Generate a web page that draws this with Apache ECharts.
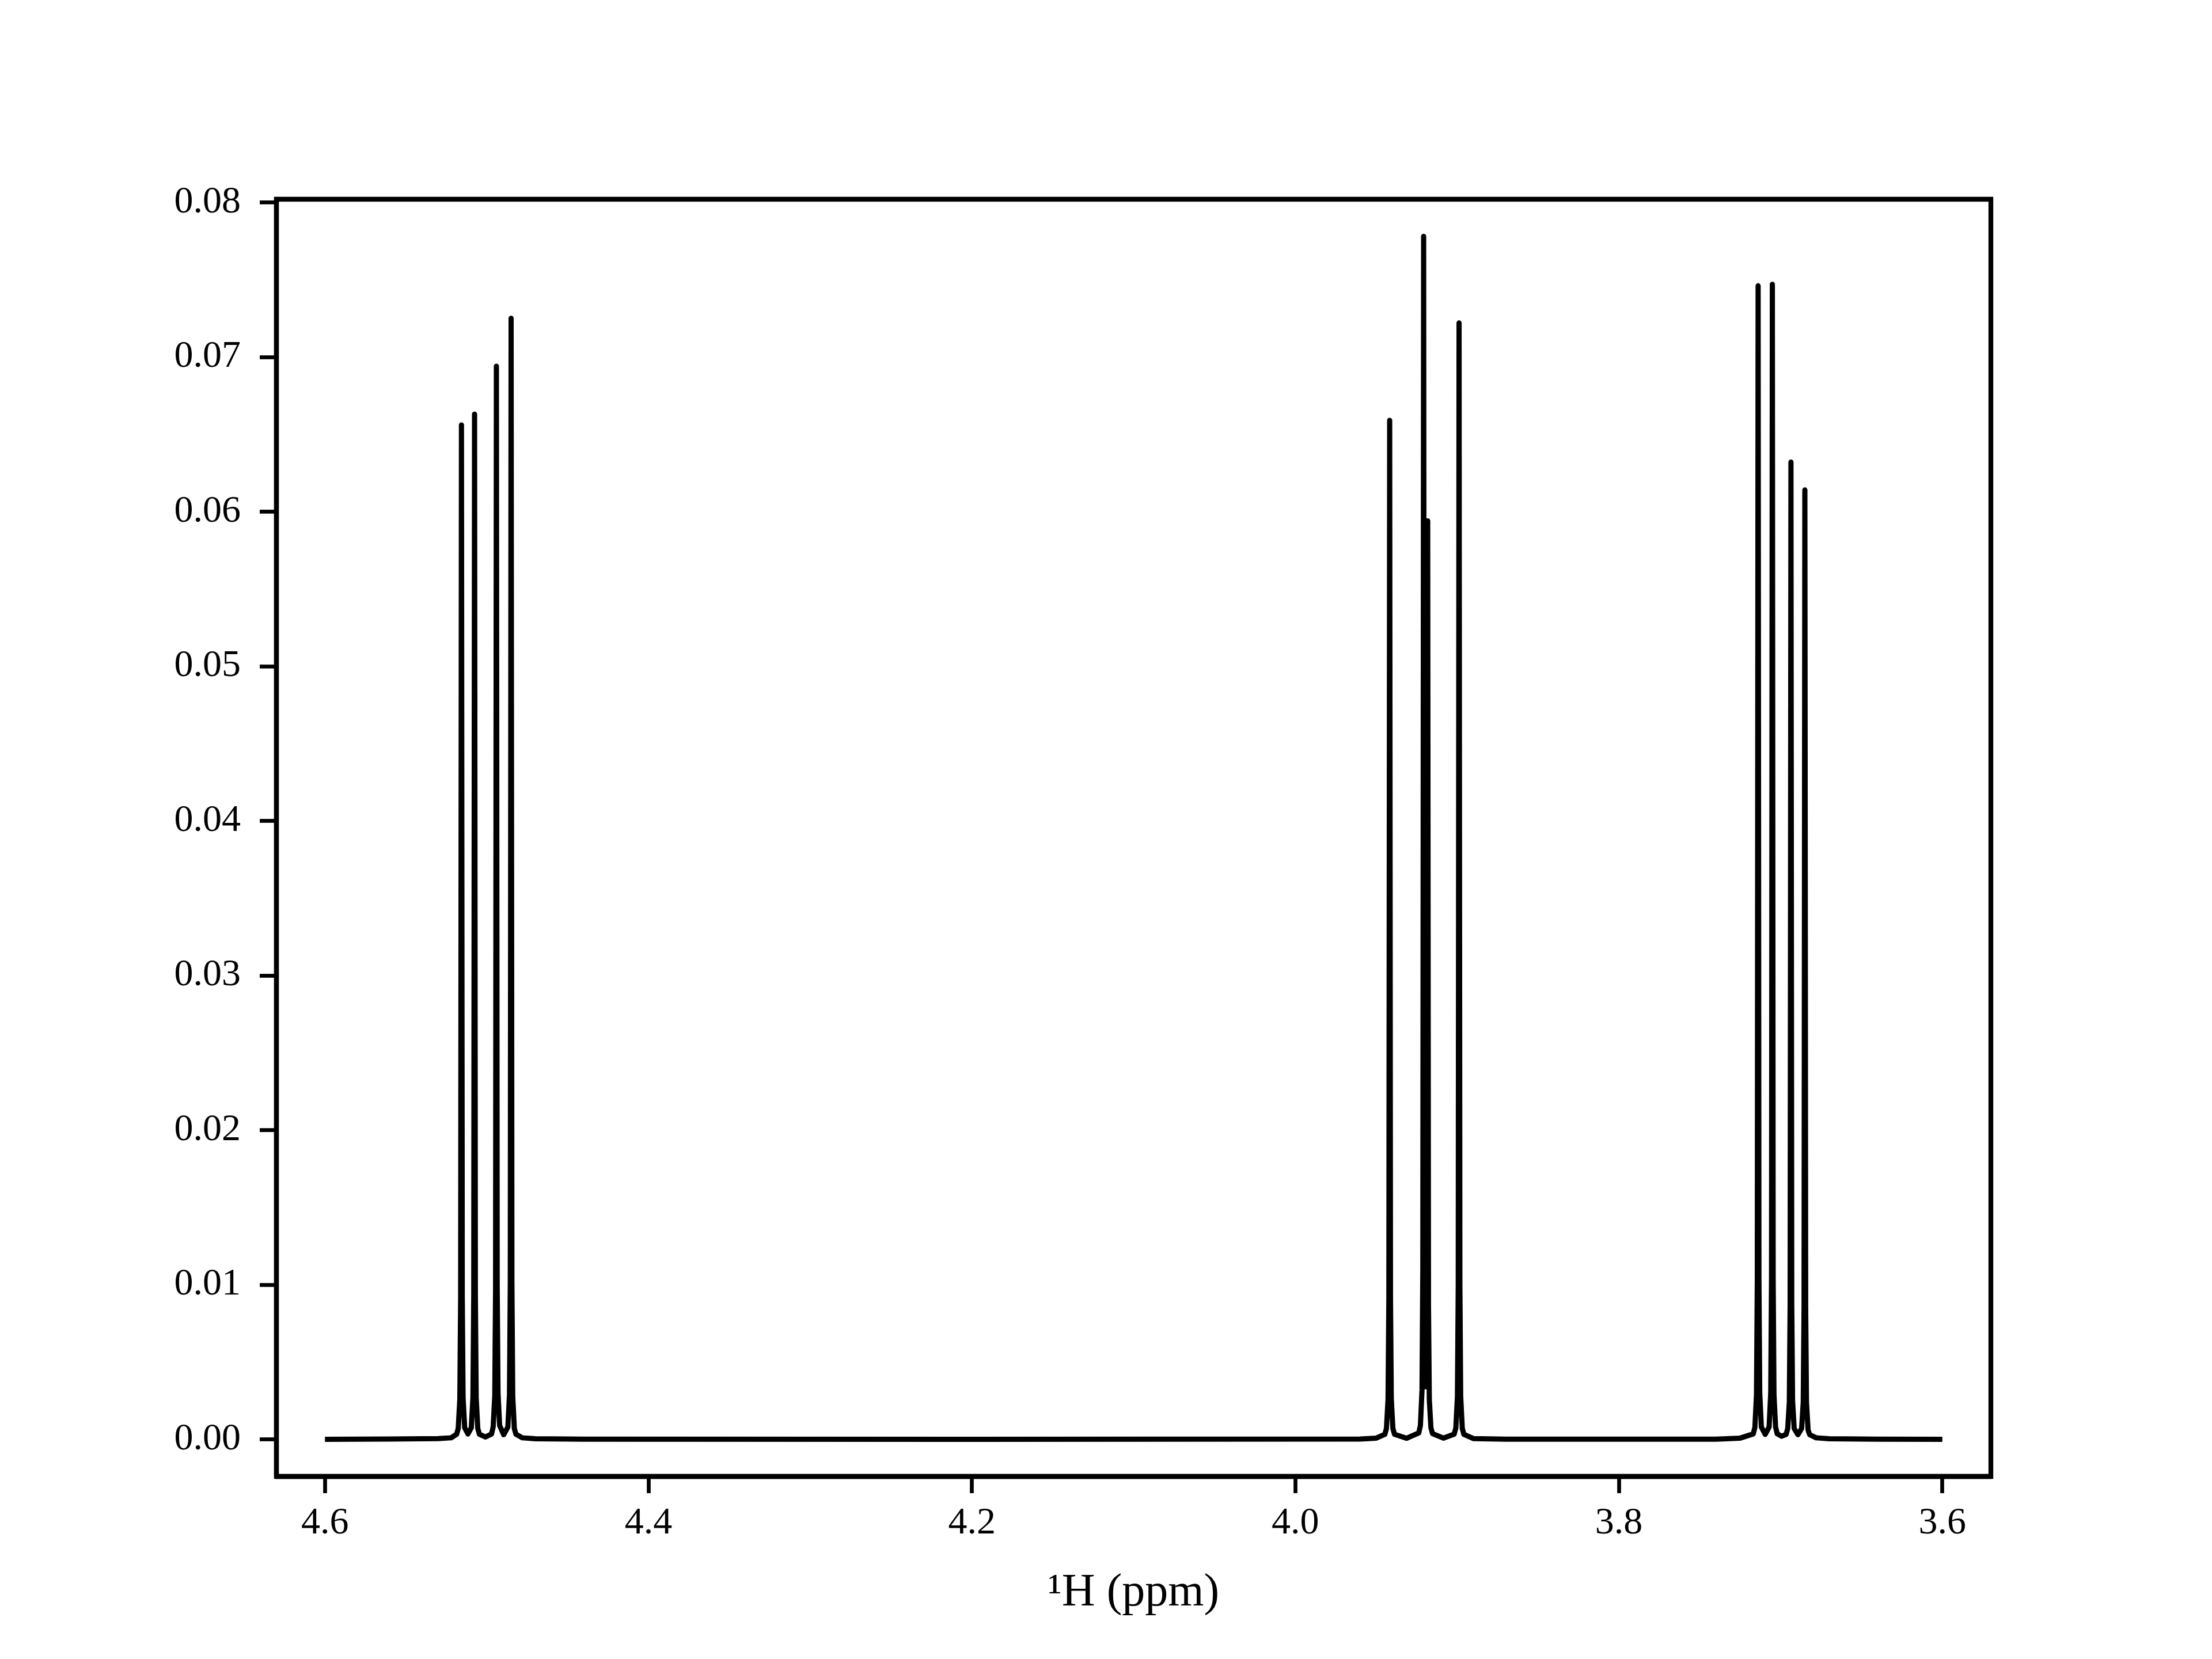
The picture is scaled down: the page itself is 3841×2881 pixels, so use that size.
<!DOCTYPE html>
<html>
<head>
<meta charset="utf-8">
<script src="https://cdn.jsdelivr.net/npm/echarts@6.0.0/dist/echarts.min.js"></script>
<style>
html,body{margin:0;padding:0;background:#fff;}
#chart{width:3841px;height:2881px;}
</style>
</head>
<body>
<div id="chart"></div>
<script>
// Chemical shift (ppm)
const ppm = [
  4.6000, 4.5600, 4.5300, 4.5220,
  4.5186, 4.5176, 4.5166, 4.5161, 4.5156, 4.5151, 4.5146, 4.5136,
  4.5116,
  4.5095, 4.5085, 4.5080, 4.5075, 4.5070, 4.5065, 4.5055, 4.5045,
  4.5008,
  4.4970, 4.4960, 4.4950, 4.4945, 4.4940, 4.4935, 4.4930, 4.4920,
  4.4895,
  4.4869, 4.4859, 4.4854, 4.4849, 4.4844, 4.4839, 4.4829, 4.4819,
  4.4780, 4.4700, 4.4400, 4.2000, 3.9600, 3.9500,
  3.9447, 3.9437, 3.9427, 3.9422, 3.9417, 3.9412, 3.9407, 3.9397, 3.9387,
  3.9312,
  3.9237, 3.9227, 3.9217, 3.9212, 3.9207, 3.9202,
  3.91945,
  3.9187, 3.9182, 3.9177, 3.9172, 3.9162, 3.9152,
  3.9085,
  3.9018, 3.9008, 3.8998, 3.8993, 3.8988, 3.8983, 3.8978, 3.8968, 3.8958,
  3.8900, 3.8700, 3.7400, 3.7250,
  3.7169, 3.7159, 3.7149, 3.7144, 3.7139, 3.7134, 3.7129, 3.7119,
  3.7095,
  3.7071, 3.7061, 3.7056, 3.7051, 3.7046, 3.7041, 3.7031, 3.7021,
  3.6994,
  3.6966, 3.6956, 3.6946, 3.6941, 3.6936, 3.6931, 3.6926, 3.6916,
  3.6893,
  3.6870, 3.6860, 3.6855, 3.6850, 3.6845, 3.6840, 3.6830, 3.6820,
  3.6780, 3.6700, 3.6400, 3.6000
];
// Intensity
const intensity = [
  0, 0.00002, 0.00005, 0.0001,
  0.00033, 0.0007, 0.0026, 0.0091, 0.0656, 0.0092, 0.0027, 0.00075,
  0.00035,
  0.00075, 0.0027, 0.0093, 0.0663, 0.0093, 0.0027, 0.0007, 0.00033,
  0.00015,
  0.00035, 0.0008, 0.0028, 0.0097, 0.0694, 0.0098, 0.0030, 0.0009,
  0.0003,
  0.0008, 0.0029, 0.0101, 0.0725, 0.0100, 0.0028, 0.0007, 0.00033,
  0.0001, 0.00004, 0.00001, 0, 0.00002, 0.00008,
  0.00032, 0.0007, 0.0026, 0.0091, 0.0659, 0.0091, 0.0026, 0.0007, 0.00033,
  0.00007,
  0.00042, 0.0009, 0.0032, 0.0110, 0.0778, 0.0113,
  0.0034,
  0.0090, 0.0594, 0.0085, 0.0026, 0.00075, 0.00037,
  0.00008,
  0.00034, 0.00073, 0.0028, 0.0100, 0.0722, 0.0100, 0.0028, 0.0007, 0.00032,
  0.00005, 0.00001, 0.00001, 0.00008,
  0.00035, 0.00077, 0.0029, 0.0103, 0.0746, 0.0104, 0.0030, 0.0008,
  0.00032,
  0.0008, 0.0030, 0.0104, 0.0747, 0.0104, 0.0029, 0.0008, 0.00036,
  0.0002,
  0.00032, 0.0007, 0.0024, 0.0087, 0.0632, 0.0087, 0.0025, 0.0007,
  0.0003,
  0.0007, 0.0024, 0.0085, 0.0614, 0.0085, 0.0024, 0.0006, 0.0003,
  0.0001, 0.00004, 0.00001, 0
];
const xTicks = [4.6, 4.4, 4.2, 4.0, 3.8, 3.6];
const yTicks = [0, 0.01, 0.02, 0.03, 0.04, 0.05, 0.06, 0.07, 0.08];

const data = ppm.map((x, i) => [x, intensity[i]]);
const FONT = 'Liberation Serif';

const chart = echarts.init(document.getElementById('chart'), null, {renderer: 'canvas'});
chart.setOption({
  animation: false,
  backgroundColor: '#ffffff',
  grid: {
    left: 480, top: 346, width: 2977, height: 2218,
    show: true, borderColor: '#000', borderWidth: 8.3, backgroundColor: 'transparent'
  },
  xAxis: {
    type: 'value', inverse: true, min: 3.57, max: 4.63,
    axisLine: {show: true, onZero: false, lineStyle: {color: '#000', width: 8.3}},
    axisTick: {show: true, customValues: xTicks, length: 29, lineStyle: {color: '#000', width: 6.7}},
    axisLabel: {
      show: true, customValues: xTicks, formatter: v => v.toFixed(1),
      margin: 82, verticalAlign: 'middle',
      fontFamily: FONT, fontSize: 66, color: '#000'
    },
    splitLine: {show: false},
    name: '\u00B9H (ppm)', nameLocation: 'middle', nameGap: 203,
    nameTextStyle: {fontFamily: FONT, fontSize: 80, color: '#000', verticalAlign: 'middle'}
  },
  yAxis: {
    type: 'value', min: -0.0024, max: 0.0802,
    axisLine: {show: true, onZero: false, lineStyle: {color: '#000', width: 8.3}},
    axisTick: {show: true, customValues: yTicks, length: 29, lineStyle: {color: '#000', width: 6.7}},
    axisLabel: {
      show: true, customValues: yTicks, formatter: v => v.toFixed(2),
      margin: 62, fontFamily: FONT, fontSize: 66, color: '#000'
    },
    splitLine: {show: false}
  },
  series: [{
    type: 'line', data: data, showSymbol: false, smooth: false,
    lineStyle: {color: '#000', width: 9, join: 'round', cap: 'butt'},
    silent: true
  }]
});
</script>
</body>
</html>
